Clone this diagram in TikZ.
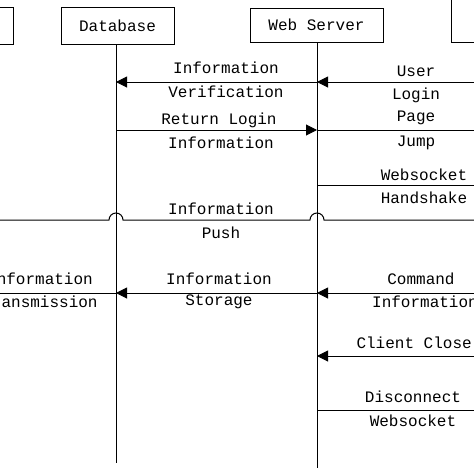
\documentclass[tikz,border=0pt]{standalone}
\usepackage{fontspec}
\setmainfont{Liberation Mono}
\usetikzlibrary{arrows.meta}
\begin{document}
\begin{tikzpicture}[x=1pt,y=-1pt,line width=1pt,
  box/.style={draw,rectangle,inner sep=0pt,font=\fontsize{16}{18}\selectfont},
  lbl/.style={font=\fontsize{16}{18}\selectfont,inner sep=0pt},
  msg/.style={-{Triangle[length=11pt,width=11pt]}},
  life/.style={line width=1pt}]
\useasboundingbox (0,0) rectangle (474,474);
\node[box,minimum width=113pt,minimum height=37pt] (db) at (117.5,25.5) {Database};
\node[box,minimum width=133pt,minimum height=34pt] (ws) at (316.5,25) {Web Server};
\node[box,minimum width=60pt,minimum height=50pt] (cl) at (481,17) {};
\node[box,minimum width=60pt,minimum height=37pt] (lf) at (-17,25.5) {};
\coordinate (dbend) at (116,463);
\coordinate (wsend) at (317,468);
\draw[life] (116,44) -- (dbend);
\draw[life] (317,42) -- (wsend);
\coordinate (r1) at (480,82); \coordinate (w1) at (317,82); \coordinate (d1) at (116,82);
\coordinate (r2) at (480,130); \coordinate (w2) at (317,130); \coordinate (d2) at (116,130);
\coordinate (r3) at (480,185); \coordinate (w3) at (317,185);
\coordinate (l4) at (-5,220); \coordinate (r4) at (480,220);
\coordinate (r5) at (480,293); \coordinate (w5) at (317,293); \coordinate (d5) at (116,293); \coordinate (l5) at (-30,293);
\coordinate (r6) at (480,356); \coordinate (w6) at (317,356);
\coordinate (r7) at (480,410); \coordinate (w7) at (317,410);
\draw[msg] (r1) -- (w1);
\draw[msg] (w1) -- (d1);
\draw[msg] (d2) -- (w2);
\draw (w2) -- (r2);
\draw (w3) -- (r3);
\draw (l4) -- (109,220) arc[start angle=180,end angle=360,radius=7] -- (310,220) arc[start angle=180,end angle=360,radius=7] -- (r4);
\draw[msg] (r5) -- (w5);
\draw[msg] (w5) -- (d5);
\draw[msg] (d5) -- (l5);
\draw[msg] (r6) -- (w6);
\draw (w7) -- (r7);
\node[lbl] (t1) at (226,68) {Information};
\node[lbl] (t2) at (226,92) {Verification};
\node[lbl] (t3) at (219,120) {Return Login};
\node[lbl] (t4) at (221,143) {Information};
\node[lbl] (u1) at (416,71) {User};
\node[lbl] (u2) at (416,95) {Login};
\node[lbl] (u3) at (416,118) {Page};
\node[lbl] (u4) at (416,143) {Jump};
\node[lbl] (h1) at (424,175) {Websocket};
\node[lbl] (h2) at (424,198) {Handshake};
\node[lbl] (p1) at (221,209) {Information};
\node[lbl] (p2) at (221,233) {Push};
\node[lbl] (s1) at (40,279) {Information};
\node[lbl] (s2) at (40,302) {Transmission};
\node[lbl] (s3) at (219,279) {Information};
\node[lbl] (s4) at (219,302) {Storage};
\node[lbl] (c1) at (421,279) {Command};
\node[lbl] (c2) at (425,302) {Information};
\node[lbl,anchor=west] (c3) at (356,343) {Client Close};
\node[lbl] (x1) at (413,397) {Disconnect};
\node[lbl] (x2) at (413,421) {Websocket};
\end{tikzpicture}
\end{document}
